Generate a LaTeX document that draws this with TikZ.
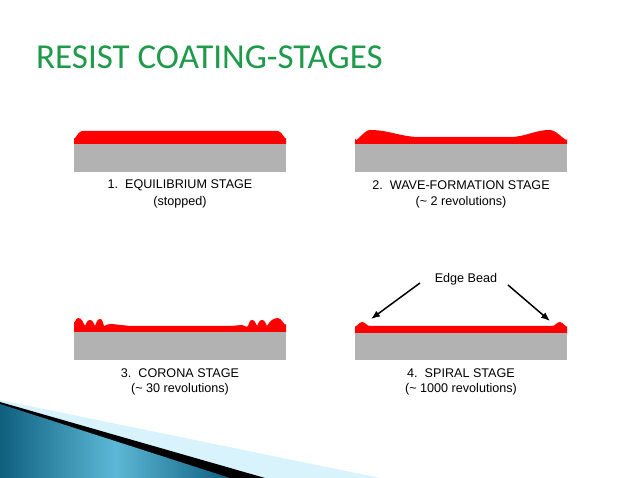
\documentclass[tikz,border=0pt]{standalone}
\usepackage{fontspec}
\setmainfont{Liberation Sans}
\newfontfamily\titlefont{Carlito}
\usetikzlibrary{arrows.meta}
\definecolor{titlegreen}{HTML}{1F9A4A}
\definecolor{tealdark}{HTML}{0F5F7F}
\definecolor{teallight}{HTML}{5CB8D6}
\begin{document}
\begin{tikzpicture}[x=1pt,y=-1pt,
  wafer/.style={fill=gray!60!white,draw=none},
  resist/.style={fill=red,draw=none},
  lbl/.style={font=\fontsize{12.6}{14}\selectfont,inner sep=0pt},
  arr/.style={-{Latex[length=9pt,width=7pt]},line width=1.5pt}]
\useasboundingbox (0,0) rectangle (638,478);
\fill[white] (0,0) rectangle (638,478);
\node[anchor=west,text=titlegreen,font=\titlefont\fontsize{35}{38}\selectfont,inner sep=0pt] (title) at (36,57) {RESIST COATING-STAGES};
% bottom decoration
\fill[cyan!15!white] (0,400) -- (380,478) -- (0,478) -- cycle;
\fill[black] (0,402) -- (265,478) -- (0,478) -- cycle;
\shade[left color=tealdark,right color=tealdark,middle color=teallight] (0,404) -- (230,478) -- (0,478) -- cycle;
% wafer 1
\fill[wafer] (74,144) rectangle (286,172);
\fill[resist] (74,144) -- (74,138) to[out=-90,in=180] (82,131) -- (278,131) to[out=0,in=-90] (286,138) -- (286,144) -- cycle;
% wafer 2
\fill[wafer] (355,144) rectangle (567,172);
\fill[resist] (355,144) -- (355,138) to[out=-80,in=180] (370,130) to[out=0,in=180] (420,137) -- (510,137) to[out=0,in=180] (550,130) to[out=0,in=-80] (567,138) -- (567,144) -- cycle;
% wafer 3
\fill[wafer] (74,332) rectangle (286,360);
\fill[resist] (74,332) -- (74,322) to[out=-70,in=180] (78,318) to[out=0,in=120] (85,326) to[out=60,in=180] (90,320) to[out=0,in=120] (95,326) to[out=60,in=180] (100,319) to[out=0,in=120] (104,326) to[out=30,in=180] (112,324) -- (130,326) -- (230,326) -- (242,325) to[out=0,in=240] (248,326) to[out=60,in=180] (252,320) to[out=0,in=120] (257,326) to[out=60,in=180] (262,320) to[out=0,in=120] (267,326) to[out=60,in=180] (278,318) to[out=0,in=-100] (286,324) -- (286,332) -- cycle;
% wafer 4
\fill[wafer] (355,333) rectangle (567,360);
\fill[resist] (355,333) -- (355,326) to[out=-90,in=180] (362,322) to[out=0,in=180] (370,326) -- (552,326) to[out=0,in=180] (560,322) to[out=0,in=-90] (567,326) -- (567,333) -- cycle;
% labels
\node[lbl] (l1) at (180,185) {1.\ \ EQUILIBRIUM STAGE};
\node[lbl] (s1) at (180,202) {(stopped)};
\node[lbl] (l2) at (461,185) {2.\ \ WAVE-FORMATION STAGE};
\node[lbl] (s2) at (461,202) {(\textasciitilde{} 2 revolutions)};
\node[lbl] (l3) at (180,373) {3.\ \ CORONA STAGE};
\node[lbl] (s3) at (180,389) {(\textasciitilde{} 30 revolutions)};
\node[lbl] (l4) at (461,373) {4.\ \ SPIRAL STAGE};
\node[lbl] (s4) at (461,389) {(\textasciitilde{} 1000 revolutions)};
\node[lbl] (eb) at (466,279) {Edge Bead};
\coordinate (bl) at (371,319);
\coordinate (br) at (550,321);
\draw[arr] (420,283) -- (bl);
\draw[arr] (508,285) -- (br);
\end{tikzpicture}
\end{document}
